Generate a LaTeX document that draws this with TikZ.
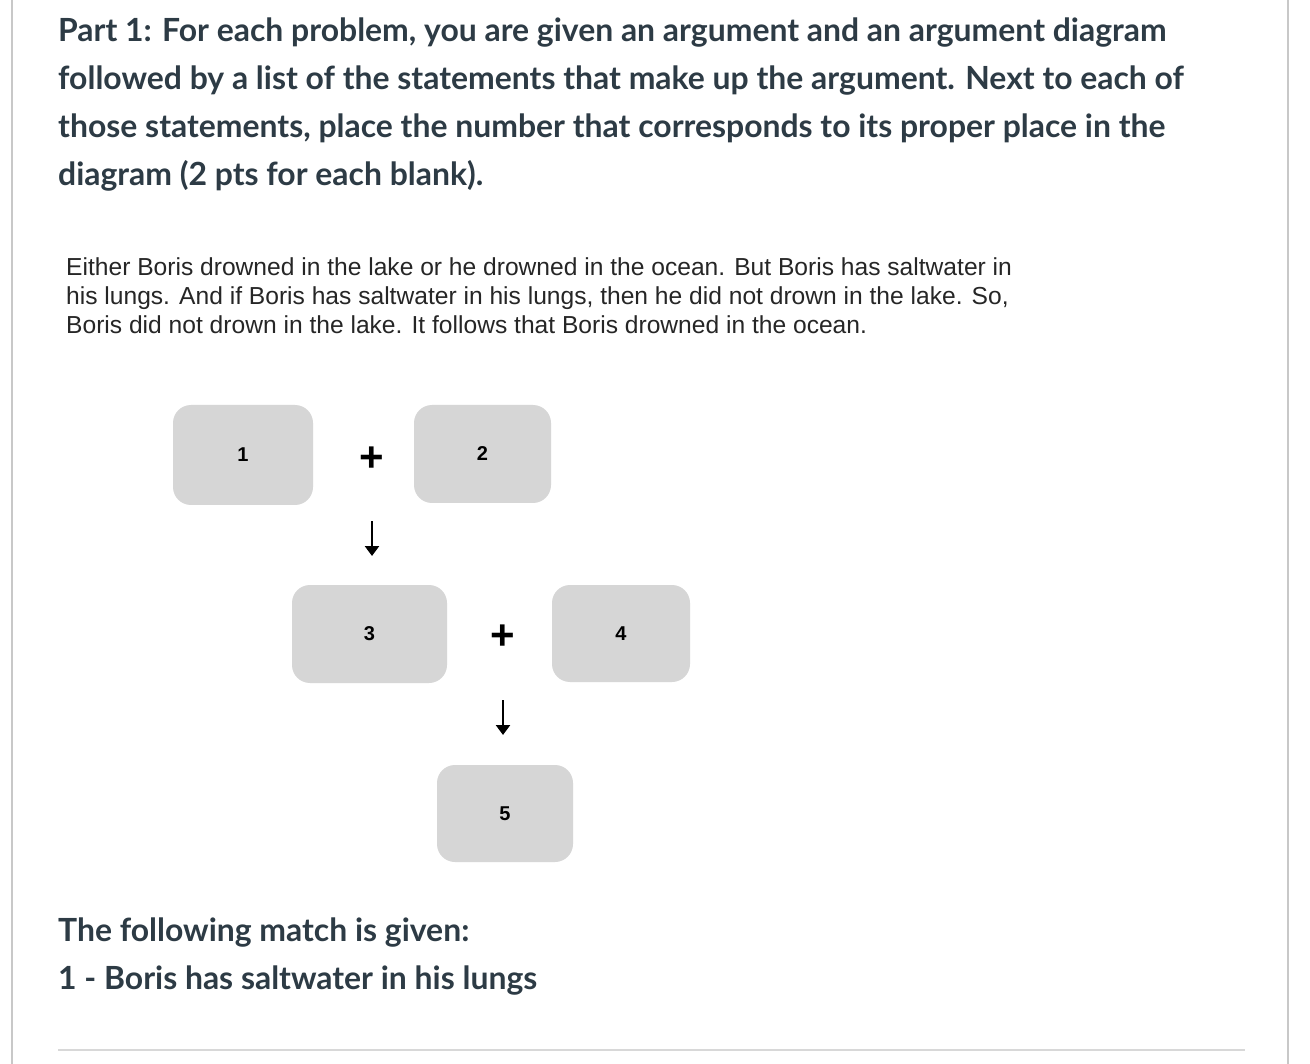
\documentclass[tikz,border=0pt]{standalone}
\usepackage{fontspec}
\setmainfont{Lato}
\newfontfamily\arialf{Liberation Sans}
\usetikzlibrary{arrows.meta}
\definecolor{boxgray}{HTML}{D6D6D6}
\definecolor{framegray}{HTML}{C8C8C8}
\definecolor{txt}{HTML}{2D3B45}
\tikzset{
  head/.style={anchor=base west, inner sep=0pt, font=\fontsize{31.9}{32}\selectfont\bfseries, text=txt},
  arg/.style={anchor=base west, inner sep=0pt, font=\arialf\fontsize{24.6}{24.6}\selectfont, text=black!85},
  stmt/.style={draw=none, fill=boxgray, rounded corners=18pt, minimum width=138pt, minimum height=98pt, font=\arialf\bfseries\fontsize{20}{20}\selectfont},
  sym/.style={inner sep=0pt, font=\arialf\bfseries\fontsize{42}{42}\selectfont},
  inf/.style={-{Triangle[length=10pt,width=14pt]}, line width=2.6pt}
}
\begin{document}
\begin{tikzpicture}[x=1pt,y=-1pt]
\useasboundingbox (0,0) rectangle (1310,1064);
\fill[white] (0,0) rectangle (1310,1064);
\draw[framegray, line width=1.5pt] (12,0) -- (12,1064);
\draw[framegray, line width=1.5pt] (1288,0) -- (1288,1064);
\draw[framegray!70, line width=1.2pt] (58,1050) -- (1245,1050);
\node[head] (h1) at (58,42) {Part 1: For each problem, you are given an argument and an argument diagram};
\node[head] (h2) at (58,90) {followed by a list of the statements that make up the argument. Next to each of};
\node[head] (h3) at (58,138) {those statements, place the number that corresponds to its proper place in the};
\node[head] (h4) at (58,186) {diagram (2 pts for each blank).};
\node[arg] (a1) at (66,276) {Either Boris drowned in the lake or he drowned in the ocean. But Boris has saltwater in};
\node[arg] (a2) at (66,305) {his lungs. And if Boris has saltwater in his lungs, then he did not drown in the lake. So,};
\node[arg] (a3) at (66,334) {Boris did not drown in the lake. It follows that Boris drowned in the ocean.};
\node[stmt, minimum width=140pt, minimum height=100pt] (b1) at (243,455) {1};
\node[stmt, minimum width=137pt] (b2) at (482.5,454) {2};
\node[stmt, minimum width=155pt] (b3) at (369.5,634) {3};
\node[stmt, minimum width=138pt, minimum height=97pt] (b4) at (621,633.5) {4};
\node[stmt, minimum width=136pt, minimum height=97pt] (b5) at (505,813.5) {5};
\node[sym] (p1) at (372,459) {+};
\node[sym] (p2) at (503,637) {+};
\coordinate (t1) at (372,521);
\coordinate (e1) at (372,556);
\coordinate (t2) at (503,700);
\coordinate (e2) at (503,735);
\draw[inf] (t1) -- (e1);
\draw[inf] (t2) -- (e2);
\node[head] (g1) at (58,941) {The following match is given:};
\node[head] (g2) at (58,989) {1 - Boris has saltwater in his lungs};
\end{tikzpicture}
\end{document}
